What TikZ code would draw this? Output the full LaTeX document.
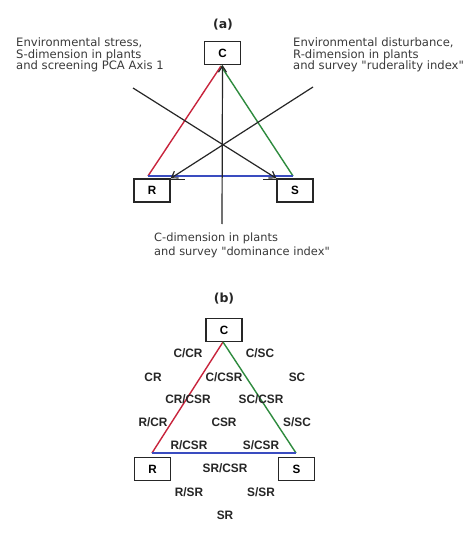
\documentclass[tikz,border=0pt]{standalone}
\usepackage{fontspec}
\setmainfont{DejaVu Sans}
\newfontfamily\dvs{DejaVu Sans}
\newfontfamily\arialb{Liberation Sans}[FakeStretch=0.97]
\usetikzlibrary{arrows.meta}
\definecolor{txtgrey}{HTML}{3A3A3A}
\definecolor{tred}{HTML}{C8243C}
\definecolor{tgreen}{HTML}{2E8B3E}
\definecolor{tblue}{HTML}{3A4CC0}
\tikzset{
  lettbox/.style={draw=black!85, line width=1.2pt, minimum width=36pt, minimum height=23pt, inner sep=0pt, font=\arialb\bfseries\fontsize{12}{12}\selectfont},
  desc/.style={align=left, anchor=north west, inner sep=0pt, text=txtgrey, font=\dvs\fontsize{11.6}{11.6}\selectfont},
  ttl/.style={inner sep=0pt, font=\bfseries\fontsize{12.5}{12.5}\selectfont, text=black!85},
  reg/.style={inner sep=0pt, text=black!85, font=\arialb\bfseries\fontsize{12.2}{12}\selectfont},
  edgeR/.style={draw=tred, line width=1.4pt},
  edgeG/.style={draw=tgreen, line width=1.4pt},
  edgeB/.style={draw=tblue, line width=1.4pt},
  axis/.style={draw=black!85, line width=1.2pt, -{Straight Barb[length=6pt,width=8pt]}},
  tick/.style={draw=black!85, line width=1.2pt}
}
\begin{document}
\begin{tikzpicture}[x=1pt,y=-1pt]
\useasboundingbox (0,0) rectangle (474,537);
\fill[white] (0,0) rectangle (474,537);

% ---------- panel (a) ----------
\node[ttl] (ta) at (223,25) {(a)};
\node[lettbox] (Ca) at (222.5,53) {C};
\node[lettbox] (Ra) at (152,190.5) {R};
\node[lettbox] (Sa) at (295,190.5) {S};

\coordinate (apa) at (221,66);
\coordinate (la) at (148,176);
\coordinate (ra) at (293,176);
\draw[edgeR] (apa) -- (la);
\draw[edgeG] (apa) -- (ra);
\draw[edgeB] (la) -- (ra);

\coordinate (s1) at (133,88);
\coordinate (s2) at (313,87);
\coordinate (s3) at (222,224);
\draw[axis] (s1) -- (Sa.north west);
\draw[axis] (s2) -- (Ra.north east);
\draw[axis] (s3) -- (Ca.south);
\coordinate (t1a) at (170,179.5);
\coordinate (t1b) at (185,179.5);
\coordinate (t2a) at (263,179.5);
\coordinate (t2b) at (277,179.5);
\draw[tick] (t1a) -- (t1b);
\draw[tick] (t2a) -- (t2b);

\node[desc] (dl) at (16,37.5) {Environmental stress,\\S-dimension in plants\\and screening PCA Axis 1};
\node[desc] (dr) at (293,37.5) {Environmental disturbance,\\R-dimension in plants\\and survey "ruderality index"};
\node[desc, font=\dvs\fontsize{11.4}{14}\selectfont] (db) at (154,232.5) {C-dimension in plants\\and survey "dominance index"};

% ---------- panel (b) ----------
\node[ttl] (tb) at (224,299) {(b)};
\node[lettbox] (Cb) at (224,330) {C};
\node[lettbox] (Rb) at (152.5,469) {R};
\node[lettbox] (Sb) at (296.5,469) {S};

\coordinate (apb) at (223,342);
\coordinate (lb) at (152,453);
\coordinate (rb) at (296,453);
\draw[edgeR] (apb) -- (lb);
\draw[edgeG] (apb) -- (rb);
\draw[edgeB] (lb) -- (rb);

\node[reg] (n1) at (188,353) {C/CR};
\node[reg] (n2) at (260,353) {C/SC};
\node[reg] (n3) at (153,377) {CR};
\node[reg] (n4) at (224,377) {C/CSR};
\node[reg] (n5) at (297,377) {SC};
\node[reg] (n6) at (188,399) {CR/CSR};
\node[reg] (n7) at (261,399) {SC/CSR};
\node[reg] (n8) at (153,422) {R/CR};
\node[reg] (n9) at (224,422) {CSR};
\node[reg] (n10) at (297,422) {S/SC};
\node[reg] (n11) at (189,445) {R/CSR};
\node[reg] (n12) at (261,445) {S/CSR};
\node[reg] (n13) at (225,468) {SR/CSR};
\node[reg] (n14) at (189,492) {R/SR};
\node[reg] (n15) at (261,492) {S/SR};
\node[reg] (n16) at (225,515) {SR};
\end{tikzpicture}
\end{document}
